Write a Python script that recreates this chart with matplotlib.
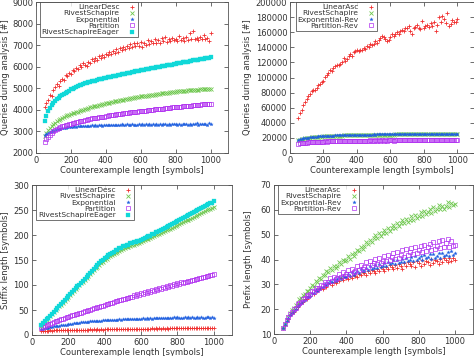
import matplotlib
matplotlib.use("Agg")
import matplotlib.pyplot as plt

# counterexample lengths (x for every series)
lengths = [50, 60, 70, 80, 90, 100, 110, 120, 130, 140,
           150, 160, 170, 180, 190, 200, 210, 220, 230, 240,
           250, 260, 270, 280, 290, 300, 310, 320, 330, 340,
           350, 360, 370, 380, 390, 400, 410, 420, 430, 440,
           450, 460, 470, 480, 490, 500, 510, 520, 530, 540,
           550, 560, 570, 580, 590, 600, 610, 620, 630, 640,
           650, 660, 670, 680, 690, 700, 710, 720, 730, 740,
           750, 760, 770, 780, 790, 800, 810, 820, 830, 840,
           850, 860, 870, 880, 890, 900, 910, 920, 930, 940,
           950, 960, 970, 980, 990, 1000]

# --- top left: queries, descending variants ---
q_linear_desc = [4150, 4320, 4480, 4700, 4650, 4900, 5050, 5180, 5120, 5330,
                 5420, 5380, 5600, 5550, 5720, 5680, 5850, 5780, 5950, 5900,
                 6080, 5990, 6150, 6100, 6050, 6230, 6180, 6350, 6280, 6400,
                 6330, 6480, 6390, 6550, 6470, 6600, 6520, 6680, 6590, 6750,
                 6650, 6800, 6700, 6880, 6760, 6920, 6810, 6980, 6850, 7050,
                 6900, 7080, 6950, 7120, 6980, 7150, 6900, 7100, 7020, 7250,
                 7050, 7180, 7080, 7300, 7120, 7250, 7100, 7320, 7180, 7400,
                 7150, 7280, 7200, 7350, 7220, 7300, 7180, 7420, 7250, 7330,
                 7200, 7380, 7260, 7550, 7300, 7650, 7280, 7350, 7220, 7400,
                 7300, 7450, 7280, 7350, 7200, 7550]
q_rs = [2780, 2920, 3050, 3160, 3260, 3340, 3410, 3470, 3530, 3590,
        3640, 3680, 3720, 3750, 3780, 3800, 3840, 3860, 3900, 3920,
        3950, 3980, 4000, 4030, 4060, 4100, 4110, 4140, 4160, 4180,
        4200, 4220, 4240, 4260, 4290, 4310, 4330, 4340, 4360, 4380,
        4400, 4410, 4430, 4450, 4460, 4480, 4500, 4510, 4520, 4540,
        4550, 4560, 4580, 4590, 4600, 4620, 4630, 4640, 4650, 4660,
        4670, 4680, 4700, 4710, 4720, 4740, 4750, 4760, 4770, 4780,
        4790, 4800, 4810, 4820, 4830, 4850, 4860, 4870, 4870, 4880,
        4890, 4890, 4900, 4910, 4920, 4920, 4930, 4940, 4940, 4950,
        4950, 4960, 4960, 4970, 4970, 4980]
q_exp = [2850, 2880, 2930, 2960, 3000, 3040, 3060, 3090, 3110, 3130,
         3150, 3170, 3160, 3190, 3200, 3210, 3190, 3230, 3220, 3240,
         3230, 3250, 3240, 3260, 3250, 3270, 3250, 3280, 3260, 3290,
         3270, 3280, 3300, 3270, 3290, 3310, 3280, 3300, 3320, 3290,
         3310, 3290, 3320, 3300, 3330, 3290, 3310, 3330, 3300, 3320,
         3340, 3300, 3320, 3310, 3340, 3300, 3330, 3320, 3350, 3310,
         3330, 3310, 3350, 3320, 3340, 3310, 3350, 3320, 3340, 3330,
         3310, 3350, 3320, 3340, 3330, 3360, 3310, 3340, 3320, 3350,
         3330, 3360, 3320, 3340, 3310, 3350, 3330, 3370, 3320, 3340,
         3360, 3330, 3350, 3320, 3370, 3330]
q_part = [2500, 2640, 2760, 2850, 2940, 3010, 3070, 3120, 3160, 3200,
          3230, 3260, 3290, 3310, 3330, 3350, 3380, 3400, 3420, 3450,
          3470, 3490, 3500, 3520, 3550, 3570, 3580, 3600, 3610, 3630,
          3640, 3650, 3670, 3680, 3690, 3710, 3720, 3740, 3740, 3760,
          3780, 3790, 3800, 3810, 3830, 3840, 3850, 3860, 3870, 3880,
          3890, 3900, 3910, 3920, 3930, 3940, 3950, 3960, 3970, 3980,
          3990, 4000, 4010, 4020, 4030, 4040, 4050, 4050, 4060, 4070,
          4080, 4090, 4100, 4110, 4120, 4130, 4140, 4140, 4150, 4160,
          4170, 4180, 4180, 4190, 4200, 4210, 4210, 4220, 4230, 4240,
          4250, 4250, 4260, 4270, 4270, 4280]
q_rs_eager = [3500, 3720, 3930, 4080, 4210, 4320, 4410, 4490, 4560, 4630,
              4690, 4740, 4800, 4850, 4890, 4950, 4980, 5030, 5060, 5100,
              5130, 5170, 5190, 5230, 5240, 5270, 5300, 5320, 5350, 5360,
              5390, 5410, 5420, 5450, 5470, 5480, 5510, 5520, 5540, 5560,
              5580, 5590, 5610, 5630, 5650, 5670, 5680, 5700, 5710, 5730,
              5750, 5760, 5780, 5800, 5810, 5840, 5850, 5860, 5880, 5890,
              5910, 5920, 5940, 5950, 5970, 5990, 6000, 6010, 6030, 6040,
              6060, 6070, 6090, 6100, 6120, 6140, 6150, 6170, 6180, 6200,
              6210, 6230, 6240, 6260, 6270, 6290, 6300, 6320, 6330, 6350,
              6360, 6380, 6390, 6410, 6420, 6440]

# --- top right: queries, ascending / reversed variants ---
q_linear_asc = [47000, 53000, 57000, 63000, 68000, 72000, 75000, 78000, 82000, 83500,
                83000, 86000, 90000, 91000, 94000, 96000, 101000, 103000, 106000, 110000,
                108000, 113000, 115000, 117000, 116000, 118000, 121000, 126000, 122000, 125000,
                128000, 131000, 129000, 134000, 135000, 136000, 134500, 136000, 137000, 139000,
                138000, 142000, 140000, 145000, 143000, 144000, 148000, 146000, 150000, 152000,
                155000, 153000, 151000, 149000, 150000, 154000, 158000, 155000, 157000, 160000,
                158000, 161000, 163000, 162000, 165000, 166000, 168000, 161000, 158000, 165000,
                167000, 169000, 165000, 164000, 175000, 166000, 168000, 170000, 167000, 172000,
                168000, 174000, 162000, 170000, 180000, 173000, 181000, 178000, 172000, 185000,
                168000, 171000, 176000, 173000, 174000, 177000]
q_rs_b = [17000, 17800, 18500, 19000, 19400, 19800, 20100, 20400, 20700, 20900,
          21100, 21300, 21500, 21700, 21800, 22000, 22100, 22200, 22400, 22500,
          22600, 22700, 22800, 22900, 23000, 23100, 23100, 23200, 23300, 23400,
          23400, 23500, 23600, 23600, 23700, 23700, 23800, 23800, 23900, 23900,
          24000, 24000, 24000, 24100, 24100, 24200, 24200, 24200, 24300, 24300,
          24300, 24400, 24400, 24400, 24500, 24500, 24500, 24500, 24600, 24600,
          24600, 24600, 24700, 24700, 24700, 24700, 24800, 24800, 24800, 24800,
          24800, 24900, 24900, 24900, 24900, 24900, 25000, 25000, 25000, 25000,
          25000, 25000, 25100, 25100, 25100, 25100, 25100, 25100, 25200, 25200,
          25200, 25200, 25200, 25200, 25300, 25300]
q_exp_rev = [17500, 18300, 18900, 19400, 19800, 20200, 20500, 20800, 21000, 21300,
             21500, 21700, 21900, 22000, 22200, 22300, 22500, 22600, 22700, 22900,
             23000, 23100, 23200, 23300, 23300, 23500, 23500, 23600, 23700, 23800,
             23800, 23900, 24000, 24000, 24100, 24200, 24100, 24300, 24300, 24300,
             24400, 24300, 24500, 24400, 24500, 24600, 24500, 24600, 24700, 24600,
             24700, 24600, 24800, 24700, 24800, 24700, 24900, 24800, 24800, 24900,
             24800, 25000, 24900, 24800, 25000, 24900, 25100, 24900, 25000, 25000,
             25100, 24900, 25000, 25200, 25000, 25100, 25000, 25200, 25100, 25000,
             25200, 25100, 25000, 25200, 25100, 25300, 25000, 25200, 25100, 25300,
             25100, 25200, 25300, 25100, 25200, 25300]
q_part_rev = [12000, 12600, 13100, 13400, 13700, 13900, 14100, 14300, 14400, 14600,
              14700, 14800, 14900, 15000, 15100, 15100, 15300, 15200, 15400, 15300,
              15500, 15400, 15600, 15500, 15700, 15600, 15800, 15700, 15900, 15800,
              16000, 15900, 16100, 16000, 16200, 16400, 16100, 16300, 16200, 16400,
              16300, 16500, 16200, 16600, 16400, 16300, 16700, 16400, 16600, 16500,
              16700, 16400, 16800, 16500, 16700, 16600, 16900, 16500, 16800, 16700,
              16600, 16900, 16700, 17000, 16800, 16700, 17000, 16800, 17100, 16900,
              16800, 17100, 16900, 17200, 16900, 17000, 17200, 16900, 17100, 17000,
              17200, 17000, 17300, 17100, 16900, 17300, 17100, 17200, 17000, 17300,
              17100, 17300, 17200, 17400, 17100, 17300]

# --- bottom left: suffix length ---
s_linear_desc = [8.0, 8.6, 8.3, 9.0, 8.6, 9.3, 8.9, 9.5, 9.1, 9.6,
                 9.2, 9.9, 9.5, 10.1, 9.6, 10.2, 9.8, 10.4, 10.0, 10.5,
                 10.1, 10.7, 10.2, 10.8, 10.4, 11.0, 10.5, 11.1, 10.6, 11.2,
                 10.8, 11.4, 10.9, 11.5, 11.0, 11.6, 11.1, 11.8, 11.2, 11.9,
                 11.4, 12.0, 11.5, 12.1, 11.6, 12.2, 11.7, 12.3, 11.9, 12.4,
                 12.0, 12.5, 12.1, 12.6, 12.2, 12.7, 12.3, 12.9, 12.4, 13.0,
                 12.5, 13.1, 12.6, 13.2, 12.7, 13.3, 12.8, 13.4, 12.9, 13.5,
                 13.0, 13.6, 13.1, 13.7, 13.2, 13.8, 13.3, 13.9, 13.4, 13.9,
                 13.5, 14.0, 13.6, 14.1, 13.7, 14.2, 13.7, 14.3, 13.8, 14.4,
                 13.9, 14.4, 14.0, 14.5, 14.0, 14.6]
s_rs = [19, 23, 27, 31, 35, 38, 42, 46, 50, 54,
        58, 61, 65, 69, 73, 77, 81, 85, 88, 92,
        96, 100, 104, 107, 111, 115, 119, 123, 126, 130,
        134, 137, 141, 144, 147, 150, 153, 156, 158, 161,
        163, 165, 167, 169, 171, 173, 174, 176, 177, 179,
        180, 181, 183, 184, 185, 187, 188, 190, 192, 193,
        195, 197, 198, 200, 202, 203, 205, 207, 208, 210,
        212, 213, 215, 217, 219, 221, 222, 224, 226, 228,
        230, 231, 233, 235, 237, 239, 240, 242, 244, 246,
        248, 250, 252, 253, 255, 257]
s_exp = [12.0, 13.0, 13.5, 14.5, 15.0, 16.0, 16.5, 17.5, 17.8, 18.5,
         19.0, 19.5, 20.5, 20.8, 21.0, 22.0, 22.5, 23.0, 23.2, 24.0,
         24.5, 24.8, 25.5, 25.8, 26.0, 27.0, 26.5, 27.5, 27.8, 28.0,
         28.5, 28.0, 29.0, 28.8, 29.5, 29.2, 30.0, 29.5, 30.5, 30.0,
         30.8, 30.5, 31.0, 31.5, 30.8, 31.2, 32.0, 31.5, 31.8, 32.5,
         31.8, 32.5, 32.0, 33.0, 32.2, 32.8, 33.5, 32.5, 33.2, 33.0,
         33.8, 33.0, 33.5, 34.5, 33.2, 34.0, 33.5, 34.8, 33.8, 34.2,
         35.0, 33.8, 34.5, 35.2, 34.0, 35.5, 34.5, 35.0, 34.2, 35.8,
         34.5, 35.5, 34.8, 36.0, 35.0, 34.5, 35.8, 34.8, 36.2, 35.0,
         34.5, 36.0, 35.2, 34.8, 35.5, 34.5]
s_part = [15, 17, 18.5, 20, 21.5, 23, 24.5, 26, 27.5, 29,
          30.5, 32, 33, 34.5, 36, 37, 38, 39.5, 40.5, 41.5,
          43, 44, 45, 46.5, 47.5, 49, 50, 51, 52.5, 53.5,
          54.5, 55.5, 57, 58, 59, 60, 61.5, 62.5, 63.5, 64.5,
          67, 68.5, 68, 70.5, 70, 72.5, 72, 74.5, 74, 76.5,
          77, 79.5, 79, 81.5, 81, 83.5, 83, 85.5, 85, 87.5,
          87, 89.5, 89, 91.5, 91, 93.5, 93, 95.5, 95, 97.5,
          97, 99.5, 99, 101.5, 101, 103.5, 103, 105.5, 104.5, 106.5,
          106, 108.5, 108, 110.5, 110, 112.5, 112, 114.5, 113.5, 116,
          116, 118.5, 118, 120.5, 120, 122.5]
s_rs_eager = [20, 24, 28, 32, 35, 39, 43, 47, 51, 55,
              59, 63, 66, 70, 74, 78, 82, 86, 90, 94,
              98, 101, 105, 109, 113, 117, 121, 125, 129, 133,
              137, 140, 144, 148, 151, 155, 157, 160, 162, 165,
              167, 170, 171, 174, 175, 178, 178, 181, 181, 184,
              184, 187, 187, 189, 189, 191, 192, 195, 196, 199,
              199, 202, 203, 206, 206, 209, 210, 213, 214, 217,
              218, 221, 222, 225, 226, 229, 230, 233, 234, 237,
              238, 241, 242, 245, 246, 249, 250, 253, 254, 257,
              258, 261, 262, 264, 265, 268]

# --- bottom right: prefix length ---
p_linear_asc = [12.5, 13.8, 15.2, 16.0, 17.5, 18.5, 19.0, 20.2, 20.8, 21.9,
                22.5, 22.8, 23.9, 24.2, 25.0, 25.5, 26.4, 26.0, 27.2, 27.5,
                28.0, 28.6, 28.2, 29.4, 29.0, 30.0, 30.6, 29.8, 31.0, 30.6,
                31.5, 31.2, 32.4, 31.8, 32.9, 32.5, 32.0, 33.4, 32.6, 33.9,
                33.5, 32.8, 34.2, 33.6, 35.0, 34.5, 33.8, 35.2, 34.6, 35.9,
                35.5, 34.6, 36.2, 35.4, 36.8, 36.0, 35.2, 37.0, 36.2, 37.6,
                37.0, 36.2, 37.8, 36.5, 38.2, 37.5, 36.0, 38.4, 37.2, 38.8,
                38.0, 37.2, 38.9, 36.8, 39.2, 38.5, 37.4, 39.6, 38.0, 39.4,
                39.0, 37.8, 40.2, 38.6, 39.8, 39.5, 38.2, 40.4, 39.0, 40.6,
                40.0, 38.8, 40.8, 39.4, 40.5, 40.0]
p_rs = [12.5, 14.0, 15.8, 16.9, 18.4, 19.5, 20.6, 21.8, 22.5, 23.9,
        24.5, 25.6, 26.0, 27.4, 27.5, 28.6, 29.8, 29.5, 31.2, 31.0,
        32.5, 32.0, 33.9, 33.6, 35.2, 35.0, 36.5, 35.8, 37.4, 36.6,
        37.5, 38.9, 38.0, 39.6, 39.2, 40.0, 41.5, 40.4, 42.2, 41.5,
        42.5, 44.0, 43.3, 45.2, 44.4, 45.5, 47.0, 46.2, 48.0, 47.2,
        48.5, 49.8, 48.6, 50.6, 49.5, 50.5, 52.0, 50.8, 52.6, 51.5,
        52.5, 54.0, 52.8, 54.6, 53.5, 54.5, 56.0, 54.8, 56.4, 55.2,
        56.0, 57.4, 55.8, 57.9, 56.6, 57.5, 59.0, 57.4, 59.6, 58.2,
        59.0, 60.5, 58.6, 61.0, 59.6, 60.5, 62.0, 60.2, 61.6, 60.4,
        61.5, 63.0, 61.2, 62.6, 61.8, 62.5]
p_exp_rev = [12.5, 14.0, 15.4, 16.4, 17.6, 18.5, 19.4, 20.0, 21.2, 21.8,
             22.5, 23.4, 23.6, 24.8, 25.0, 25.5, 26.6, 26.4, 27.6, 27.4,
             28.0, 29.0, 28.8, 30.0, 29.6, 30.5, 31.4, 30.8, 32.0, 31.4,
             32.0, 32.8, 32.2, 33.4, 32.8, 33.0, 34.2, 33.4, 34.8, 33.8,
             34.5, 35.4, 34.6, 36.0, 35.2, 35.5, 36.6, 35.6, 37.2, 36.2,
             36.5, 37.6, 36.6, 38.2, 37.0, 37.5, 38.6, 37.4, 39.0, 38.0,
             38.5, 39.6, 38.2, 40.0, 38.6, 39.0, 40.4, 38.8, 40.6, 39.4,
             40.0, 41.0, 39.4, 41.4, 40.0, 40.5, 41.6, 39.8, 41.8, 40.6,
             41.0, 42.2, 40.4, 42.4, 40.8, 41.5, 42.6, 40.8, 42.8, 41.6,
             42.0, 43.0, 41.4, 43.4, 41.8, 42.5]
p_part_rev = [12.5, 14.2, 15.6, 16.8, 18.0, 19.0, 20.2, 20.6, 22.0, 22.4,
              23.0, 24.2, 24.4, 25.6, 25.4, 26.0, 27.4, 26.8, 28.4, 27.8,
              28.5, 29.8, 29.2, 30.8, 30.0, 31.0, 32.4, 31.2, 33.0, 32.0,
              32.5, 34.0, 32.8, 34.8, 33.4, 34.0, 35.6, 34.2, 36.0, 34.8,
              35.5, 37.2, 35.6, 37.8, 36.2, 37.0, 38.8, 36.8, 39.4, 37.6,
              38.5, 40.2, 38.0, 40.8, 38.6, 39.5, 41.4, 39.2, 42.0, 40.0,
              41.0, 42.6, 40.2, 43.2, 40.8, 42.0, 43.8, 41.2, 44.2, 42.0,
              43.0, 44.6, 42.2, 45.0, 42.8, 44.0, 45.6, 43.0, 46.0, 43.6,
              45.0, 46.4, 43.8, 47.0, 44.4, 45.5, 47.4, 44.6, 47.8, 45.2,
              46.5, 48.2, 45.0, 47.6, 45.4, 46.0]

RED, GREEN, BLUE, MAG, CYAN = "#f03030", "#70c850", "#2060e0", "#b030f0", "#10d8d8"

# marker style per algorithm
styles = {
    "+": dict(marker="+", ms=2.6, mew=0.6),
    "x": dict(marker="x", ms=2.3, mew=0.6),
    "*": dict(marker="*", ms=2.6, mew=0.2),
    "sq": dict(marker="s", ms=2.6, mew=0.5, mfc="none"),
    "fsq": dict(marker="s", ms=2.5, mew=0.2),
}

fs = 6.0
lfs = 5.4
plt.rcParams["font.family"] = "DejaVu Sans"
fig = plt.figure(figsize=(4.74, 3.56), dpi=100)


def px_axes(l, t, r, b):
    W, H = 474.0, 356.0
    return fig.add_axes([l / W, 1 - b / H, (r - l) / W, (b - t) / H])


def series(ax, y, color, style, label):
    ax.plot(lengths, y, ls="none", color=color, label=label, **styles[style])


def finish(ax, ylim, yticks, ylabel, ylab_x, legend_anchor):
    ax.set_xlim(0, 1100)
    ax.set_xticks([0, 200, 400, 600, 800, 1000])
    ax.set_ylim(*ylim)
    ax.set_yticks(yticks)
    ax.tick_params(direction="in", top=True, right=True, labelsize=fs,
                   length=3, width=0.5, pad=2.0, colors="#333333")
    for sp in ax.spines.values():
        sp.set_linewidth(0.6)
        sp.set_color("#555555")
    ax.set_xlabel("Counterexample length [symbols]", fontsize=fs,
                  color="#333333", labelpad=0.8)
    ax.set_ylabel(ylabel, fontsize=fs, color="#333333")
    ax.yaxis.set_label_coords(ylab_x, 0.5)
    # markerfirst=False right-aligns the labels next to their markers
    leg = ax.legend(loc="upper left", bbox_to_anchor=legend_anchor, borderaxespad=0,
                    fontsize=lfs, markerfirst=False, fancybox=False, frameon=True,
                    handlelength=1.0, handletextpad=1.2, labelspacing=0.0,
                    borderpad=0.25)
    leg.get_frame().set_edgecolor("#333333")
    leg.get_frame().set_linewidth(0.6)
    for t in leg.get_texts():
        t.set_color("#333333")


# top left
ax = px_axes(36, 2, 228, 153)
series(ax, q_linear_desc, RED, "+", "LinearDesc")
series(ax, q_rs, GREEN, "x", "RivestSchapire")
series(ax, q_exp, BLUE, "*", "Exponential")
series(ax, q_part, MAG, "sq", "Partition")
series(ax, q_rs_eager, CYAN, "fsq", "RivestSchapireEager")
finish(ax, (2000, 9000), range(2000, 9001, 1000),
       "Queries during analysis [#]", -0.138, (0.02, 1.0))

# top right
ax = px_axes(290, 2, 474, 153)
series(ax, q_linear_asc, RED, "+", "LinearAsc")
series(ax, q_rs_b, GREEN, "x", "RivestSchapire")
series(ax, q_exp_rev, BLUE, "*", "Exponential-Rev")
series(ax, q_part_rev, MAG, "sq", "Partition-Rev")
finish(ax, (0, 200000), range(0, 200001, 20000),
       "Queries during analysis [#]", -0.204, (0.03, 1.0))

# bottom left
ax = px_axes(32, 185, 232, 335)
series(ax, s_linear_desc, RED, "+", "LinearDesc")
series(ax, s_rs, GREEN, "x", "RivestSchapire")
series(ax, s_exp, BLUE, "*", "Exponential")
series(ax, s_part, MAG, "sq", "Partition")
series(ax, s_rs_eager, CYAN, "fsq", "RivestSchapireEager")
finish(ax, (0, 300), range(0, 301, 50),
       "Suffix length [symbols]", -0.112, (0.02, 1.0))

# bottom right
ax = px_axes(274, 185, 473, 334)
series(ax, p_linear_asc, RED, "+", "LinearAsc")
series(ax, p_rs, GREEN, "x", "RivestSchapire")
series(ax, p_exp_rev, BLUE, "*", "Exponential-Rev")
series(ax, p_part_rev, MAG, "sq", "Partition-Rev")
finish(ax, (10, 70), range(10, 71, 10),
       "Prefix length [symbols]", -0.108, (0.02, 1.0))

fig.savefig("out.png", dpi=100)
